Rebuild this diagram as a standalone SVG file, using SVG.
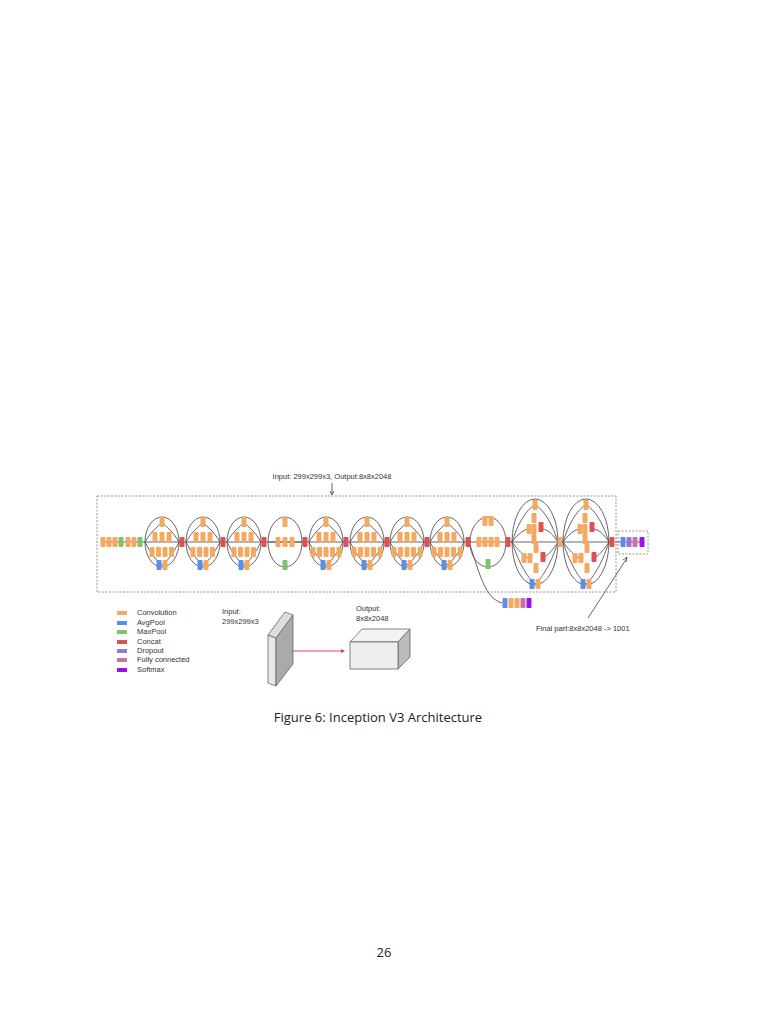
<svg xmlns="http://www.w3.org/2000/svg" xmlns:xlink="http://www.w3.org/1999/xlink" width="768" height="1024" viewBox="0 0 768 1024">
<style>
.t{font-family:"Liberation Sans",Arial,sans-serif;font-size:7.5px;fill:#333}
.cap{font-family:"Open Sans","Liberation Sans",sans-serif;font-size:13px;fill:#222}
.e{fill:none;stroke:#555;stroke-width:0.9}
.l{stroke:#555;stroke-width:0.9;fill:none}
.d{fill:none;stroke:#888;stroke-width:0.9;stroke-dasharray:2,1.5}
</style>
<defs>
<rect id="o" x="-2.5" y="-5" width="5" height="10" rx="1" fill="#f4a860"/>
<rect id="b" x="-2.5" y="-5" width="5" height="10" rx="1" fill="#5b8ee6"/>
<rect id="g" x="-2.5" y="-5" width="5" height="10" rx="1" fill="#7cc36a"/>
<rect id="r" x="-2.5" y="-5" width="5" height="10" rx="1" fill="#e05050"/>
<rect id="p" x="-2.5" y="-5" width="5" height="10" rx="1" fill="#8c7cd0"/>
<rect id="f" x="-2.5" y="-5" width="5" height="10" rx="1" fill="#c870a8"/>
<rect id="s" x="-2.5" y="-5" width="5" height="10" rx="1" fill="#9a10f0"/>
<g id="modA">
<ellipse class="e" cx="0" cy="0" rx="17" ry="25"/>
<path class="l" d="M-17,0 C-10,-12 -5,-14 0,-20 M17,0 C10,-12 5,-14 0,-20 M-17,0 C-12,10 -5,20 0,23 M17,0 C12,10 5,20 0,23"/>
<use href="#o" x="0" y="-20"/><use href="#o" x="-7" y="-5"/><use href="#o" x="0" y="-5"/><use href="#o" x="7" y="-5"/>
<use href="#o" x="-10" y="10"/><use href="#o" x="-3.5" y="10"/><use href="#o" x="3" y="10"/><use href="#o" x="9.5" y="10"/>
<use href="#b" x="-3" y="23"/><use href="#o" x="3" y="23"/>
</g>
<g id="modB">
<ellipse class="e" cx="0" cy="0" rx="17" ry="25"/>
<path class="l" d="M-17,0 L17,0"/>
<use href="#o" x="0" y="-20"/><use href="#o" x="-7" y="0"/><use href="#o" x="0" y="0"/><use href="#o" x="7" y="0"/>
</g>
<g id="modC">
<ellipse class="e" cx="0" cy="0" rx="17" ry="25"/>
<path class="l" d="M-17,0 C-10,-12 -5,-14 0,-20 M17,0 C10,-12 5,-14 0,-20 M-17,0 C-12,10 -5,20 0,23 M17,0 C12,10 5,20 0,23"/>
<use href="#o" x="0" y="-20"/><use href="#o" x="-7" y="-5"/><use href="#o" x="0" y="-5"/><use href="#o" x="7" y="-5"/>
<use href="#o" x="-13" y="10"/><use href="#o" x="-6.5" y="10"/><use href="#o" x="0" y="10"/><use href="#o" x="6.5" y="10"/><use href="#o" x="13" y="10"/>
<use href="#b" x="-3" y="23"/><use href="#o" x="3" y="23"/>
</g>
<g id="modE">
<ellipse class="e" cx="0" cy="0" rx="23" ry="43"/>
<path class="l" d="M-23,0 C-15,-25 -5,-35 0,-37 M23,0 C15,-25 5,-35 0,-37 M-23,0 C-14,-12 -8,-13 -6,-13 M23,0 C15,-12 10,-13 6,-13 M-23,0 C-14,12 -8,16 -6,16 M23,0 C15,12 10,16 6,16 M-23,0 C-15,25 -5,38 0,42 M23,0 C15,25 5,38 0,42"/>
<use href="#o" x="0" y="-37"/>
<use href="#o" x="-1" y="-24"/><use href="#o" x="-6" y="-13"/><use href="#o" x="-1" y="-13"/><use href="#o" x="-1" y="-3"/><use href="#r" x="6" y="-15"/>
<use href="#o" x="-11" y="16"/><use href="#o" x="-5" y="16"/><use href="#o" x="1" y="6"/><use href="#o" x="1" y="26"/><use href="#r" x="8" y="15"/>
<use href="#b" x="-3" y="42"/><use href="#o" x="3" y="42"/>
</g>
</defs>
<rect width="768" height="1024" fill="#fff"/>

<text class="t" x="332" y="479" text-anchor="middle">Input: 299x299x3, Output:8x8x2048</text>
<rect class="d" x="97" y="496" width="519" height="96"/>
<rect class="d" x="618" y="531" width="30" height="23"/>

<g id="connectors">
<path class="l" d="M101,542 H612"/>
<line class="l" x1="332" y1="483" x2="332" y2="494"/>
<path d="M330,491 L332,495 L334,491" class="l"/>
<path class="l" d="M470,545 C480,575 485,598 502,603"/>
<path class="l" d="M615,542 H640"/>
<line class="l" x1="588" y1="618" x2="627" y2="558"/>
<path class="l" d="M623,560 L627,557 L626,562"/>
<line x1="293" y1="651" x2="343" y2="651" stroke="#d04040" stroke-width="0.9"/>
<path d="M341,649 L345,651 L341,653 Z" fill="#d04040"/>
</g>

<g id="stem">
<use href="#o" x="103" y="542"/><use href="#o" x="109" y="542"/><use href="#o" x="115" y="542"/><use href="#g" x="121" y="542"/><use href="#o" x="128" y="542"/><use href="#o" x="134" y="542"/><use href="#g" x="140" y="542"/>
</g>
<g id="m1"><use href="#modA" x="162" y="542"/></g>
<g id="m2"><use href="#modA" x="203" y="542"/></g>
<g id="m3"><use href="#modA" x="244" y="542"/></g>
<g id="m4"><use href="#modB" x="285" y="542"/><use href="#g" x="285" y="565"/></g>
<g id="m5"><use href="#modC" x="326" y="542"/></g>
<g id="m6"><use href="#modC" x="367" y="542"/></g>
<g id="m7"><use href="#modC" x="407" y="542"/></g>
<g id="m8"><use href="#modC" x="447" y="542"/></g>
<g id="m9">
<ellipse class="e" cx="488" cy="542" rx="18" ry="25"/>
<use href="#o" x="485" y="521"/><use href="#o" x="491" y="521"/>
<use href="#o" x="479" y="542"/><use href="#o" x="485" y="542"/><use href="#o" x="491" y="542"/><use href="#o" x="497" y="542"/>
<use href="#g" x="488" y="564"/>
</g>
<g id="m10"><use href="#modE" x="535" y="542"/></g>
<use href="#o" x="560" y="542"/>
<g id="m11"><use href="#modE" x="586" y="542"/></g>
<g id="concats">
<use href="#r" x="182" y="542"/><use href="#r" x="223" y="542"/><use href="#r" x="264" y="542"/><use href="#r" x="305" y="542"/><use href="#r" x="346" y="542"/><use href="#r" x="387" y="542"/><use href="#r" x="427" y="542"/><use href="#r" x="468" y="542"/><use href="#r" x="508" y="542"/><use href="#r" x="612" y="542"/>
</g>
<g id="final"><use href="#b" x="623" y="542"/><use href="#p" x="629" y="542"/><use href="#f" x="635" y="542"/><use href="#s" x="642" y="542"/></g>
<g id="aux"><use href="#b" x="505" y="603"/><use href="#o" x="511" y="603"/><use href="#o" x="517" y="603"/><use href="#f" x="523" y="603"/><use href="#s" x="529" y="603"/></g>
<text class="t" x="536" y="631">Final part:8x8x2048 -&gt; 1001</text>

<g id="legend">
<rect x="117" y="611" width="10" height="4" fill="#f4a860"/><text class="t" x="137" y="615">Convolution</text>
<rect x="117" y="621" width="10" height="4" fill="#5b8ee6"/><text class="t" x="137" y="625">AvgPool</text>
<rect x="117" y="630" width="10" height="4" fill="#7cc36a"/><text class="t" x="137" y="634">MaxPool</text>
<rect x="117" y="640" width="10" height="4" fill="#e05050"/><text class="t" x="137" y="644">Concat</text>
<rect x="117" y="649" width="10" height="4" fill="#8c7cd0"/><text class="t" x="137" y="653">Dropout</text>
<rect x="117" y="658" width="10" height="4" fill="#c870a8"/><text class="t" x="137" y="662">Fully connected</text>
<rect x="117" y="668" width="10" height="4" fill="#9a10f0"/><text class="t" x="137" y="672">Softmax</text>
</g>

<g id="input">
<text class="t" x="222" y="614">Input:</text>
<text class="t" x="222" y="624">299x299x3</text>
<polygon points="268,635 276,638 276,686 268,683" fill="#e8e8e8" stroke="#666" stroke-width="0.8"/>
<polygon points="276,638 293,615 293,664 276,686" fill="#aaa" stroke="#666" stroke-width="0.8"/>
<polygon points="268,635 285,612 293,615 276,638" fill="#ddd" stroke="#666" stroke-width="0.8"/>
</g>
<g id="output">
<text class="t" x="356" y="611">Output:</text>
<text class="t" x="356" y="621">8x8x2048</text>
<polygon points="350,642 362,629 410,629 398,642" fill="#f2f2f2" stroke="#666" stroke-width="0.8"/>
<polygon points="398,642 410,629 410,657 398,669" fill="#bbb" stroke="#666" stroke-width="0.8"/>
<rect x="350" y="642" width="48" height="27" fill="#eee" stroke="#666" stroke-width="0.8"/>
</g>

<text class="cap" x="378" y="722" text-anchor="middle">Figure 6: Inception V3 Architecture</text>
<text class="cap" x="384" y="957" text-anchor="middle">26</text>
</svg>
